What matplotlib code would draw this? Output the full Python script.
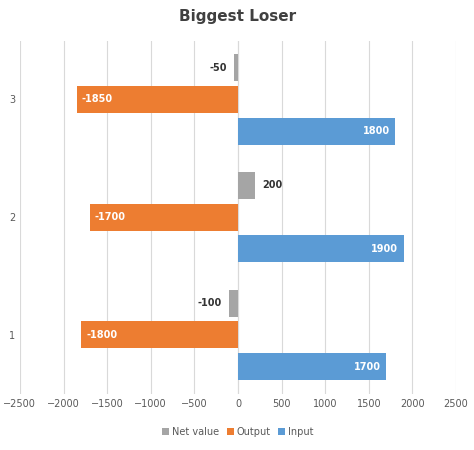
import numpy as np
import matplotlib as mpl
mpl.use('Agg')
import matplotlib.pyplot as plt

categories = ['1', '2', '3']
input_vals = [1700, 1900, 1800]
output_vals = [-1800, -1700, -1850]
net_vals = [-100, 200, -50]

fig = plt.figure(figsize=(4.74, 4.5), dpi=100)
ax = fig.add_axes([0.042, 0.125, 0.92, 0.785])

y = np.arange(len(categories))
h = 0.23
off = 0.27
b_in = ax.barh(y - off, input_vals, h, color='#5B9BD5', label='Input')
b_out = ax.barh(y, output_vals, h, color='#ED7D31', label='Output')
b_net = ax.barh(y + off, net_vals, h, color='#A5A5A5', label='Net value')

for bars, vals in ((b_in, input_vals), (b_out, output_vals)):
    for r, v in zip(bars, vals):
        yc = r.get_y() + r.get_height() / 2
        if v > 0:
            ax.text(v - 60, yc, str(v), ha='right', va='center', color='white', fontsize=7, fontweight='bold')
        else:
            ax.text(v + 60, yc, str(v), ha='left', va='center', color='white', fontsize=7, fontweight='bold')
for r, v in zip(b_net, net_vals):
    yc = r.get_y() + r.get_height() / 2
    if v > 0:
        ax.text(v + 80, yc, str(v), ha='left', va='center', color='#333333', fontsize=7, fontweight='bold')
    else:
        ax.text(v - 80, yc, str(v), ha='right', va='center', color='#333333', fontsize=7, fontweight='bold')

ax.set_xlim(-2500, 2500)
ax.set_xticks(range(-2500, 2501, 500))
ax.set_ylim(-0.5, 2.5)
ax.set_yticks(y)
ax.set_yticklabels(categories)
ax.tick_params(length=0, labelsize=7, colors='#595959')
ax.grid(axis='x', color='#D9D9D9', lw=0.8)
ax.set_axisbelow(True)
for s in ax.spines.values():
    s.set_visible(False)
ax.axvline(0, color='#D9D9D9', lw=0.8, zorder=0)

ax.set_title('Biggest Loser', fontsize=11, fontweight='bold', color='#404040', pad=14)
handles = [b_net, b_out, b_in]
ax.legend(handles, ['Net value', 'Output', 'Input'], loc='upper center', bbox_to_anchor=(0.5, -0.07),
          ncol=3, frameon=False, fontsize=7, handlelength=0.7, handleheight=0.7,
          columnspacing=0.8, handletextpad=0.3, labelcolor='#595959')

fig.savefig('out.png')
